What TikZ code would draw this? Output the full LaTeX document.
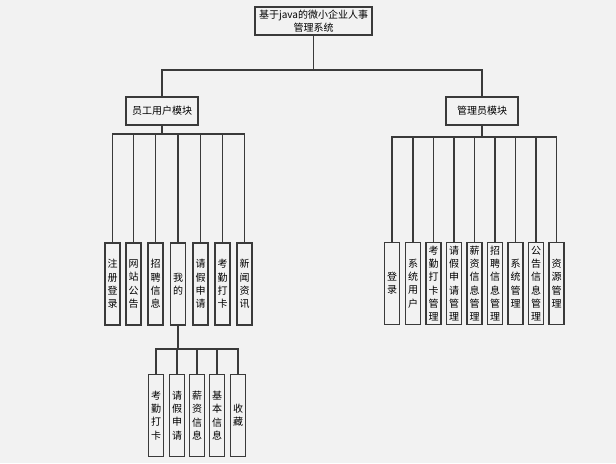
\documentclass[tikz,border=0pt]{standalone}
\usepackage{fontspec}
\setmainfont{Noto Sans CJK SC}
\usetikzlibrary{positioning}
\definecolor{cBg}  {HTML}{F2F2F2}
\definecolor{cLine}{HTML}{3A3A3A}

\begin{document}
\begin{tikzpicture}[
  x=0.75pt, y=-0.75pt,
  font=\fontsize{7.5}{10}\selectfont,
  box/.style ={draw=cLine, line width=1pt, fill=cBg, inner sep=0pt, align=center},
  root/.style={box, minimum width=87.75pt, minimum height=21pt},
  head/.style={box, minimum width=54pt, minimum height=21pt},
  leaf/.style={box, minimum width=11.25pt, minimum height=61.5pt},
  link/.style={draw=cLine, line width=1pt},
]

% ---------------------------------------------------------------- canvas
\fill[cBg] (0,0) rectangle (616,463);

% ---------------------------------------------------------------- top
\node[root] (sys) at (313.5,21) {基于java的微小企业人事\\管理系统};

\node[head] (emp) at (162,111) {员工用户模块};
\node[head] (adm) at (482,111) {管理员模块};

\coordinate (busTop) at (0,70);
\coordinate (busEmp) at (0,134);
\coordinate (busAdm) at (0,137);
\coordinate (busMy)  at (0,349);

% ---------------------------------------------------------------- employee leaves
\node[leaf] (e1) at (112.5,284) {注\\册\\登\\录};
\node[leaf] (e2) at (133.5,284) {网\\站\\公\\告};
\node[leaf] (e3) at (155.5,284) {招\\聘\\信\\息};
\node[leaf] (e4) at (178,284)   {我\\的};
\node[leaf] (e5) at (200.5,284) {请\\假\\申\\请};
\node[leaf] (e6) at (222.5,284) {考\\勤\\打\\卡};
\node[leaf] (e7) at (244.5,284) {新\\闻\\资\\讯};

% ---------------------------------------------------------------- admin leaves
\node[leaf] (a1) at (392,283.5)   {登\\录};
\node[leaf] (a2) at (413,283.5)   {系\\统\\用\\户};
\node[leaf] (a3) at (433.5,283.5) {考\\勤\\打\\卡\\管\\理};
\node[leaf] (a4) at (454,283.5)   {请\\假\\申\\请\\管\\理};
\node[leaf] (a5) at (474.5,283.5) {薪\\资\\信\\息\\管\\理};
\node[leaf] (a6) at (495,283.5)   {招\\聘\\信\\息\\管\\理};
\node[leaf] (a7) at (515.5,283.5) {系\\统\\管\\理};
\node[leaf] (a8) at (536,283.5)   {公\\告\\信\\息\\管\\理};
\node[leaf] (a9) at (556.5,283.5) {资\\源\\管\\理};

% ---------------------------------------------------------------- 我的 sub leaves
\node[leaf] (m1) at (156,415.5) {考\\勤\\打\\卡};
\node[leaf] (m2) at (177,415.5) {请\\假\\申\\请};
\node[leaf] (m3) at (197,415.5) {薪\\资\\信\\息};
\node[leaf] (m4) at (217,415.5) {基\\本\\信\\息};
\node[leaf] (m5) at (238,415.5) {收\\藏};

% ---------------------------------------------------------------- connectors
\draw[link] (sys.south) -- (sys.south |- busTop) -| (emp.north);
\draw[link] (sys.south) -- (sys.south |- busTop) -| (adm.north);

\foreach \i in {1,...,7}
  \draw[link] (emp.south) -- (emp.south |- busEmp) -| (e\i.north);
\foreach \i in {1,...,9}
  \draw[link] (adm.south) -- (adm.south |- busAdm) -| (a\i.north);
\foreach \i in {1,...,5}
  \draw[link] (e4.south) -- (e4.south |- busMy) -| (m\i.north);

\end{tikzpicture}
\end{document}
